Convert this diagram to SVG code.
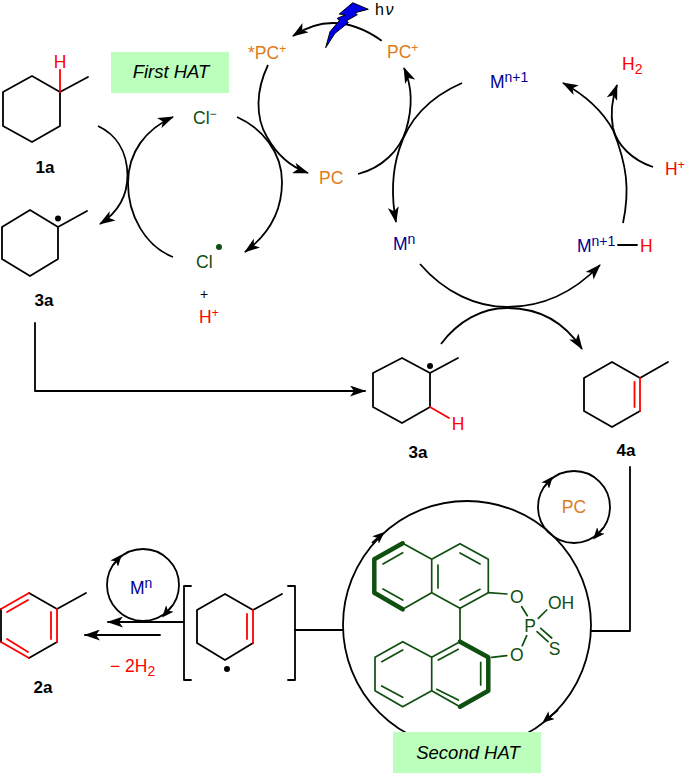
<svg xmlns="http://www.w3.org/2000/svg" width="685" height="773" viewBox="0 0 685 773">
<style>
text{font-family:"Liberation Sans",Arial,sans-serif;font-size:17.500px}
.b{fill:none;stroke:#000;stroke-width:1.800;stroke-linecap:round;stroke-linejoin:round}
.r{fill:none;stroke:#f00;stroke-width:1.800;stroke-linecap:round}
.a{fill:none;stroke:#000;stroke-width:1.800}
.g{fill:none;stroke:#0f4f0f;stroke-width:1.700;stroke-linecap:round;stroke-linejoin:round}
.t{fill:none;stroke:#0f4f0f;stroke-width:4.500;stroke-linecap:round;stroke-linejoin:round}
.lbl{font-weight:bold;fill:#000;text-anchor:middle;font-size:17px}
.o{fill:#e07b1a}.n{fill:#000090}.d{fill:#0f4f0f}.rt{fill:#f00}
.hat{fill:#bcffbc}.i{font-style:italic;fill:#000;text-anchor:middle;font-size:18.500px}
.s{font-size:12px}.sn{font-size:14px}
</style>
<defs>
<marker id="ah" viewBox="0 0 16 11" refX="15" refY="5.500" markerWidth="16" markerHeight="11" markerUnits="userSpaceOnUse" orient="auto"><path d="M0 0L16 5.500L0 11L4 5.500Z" fill="#000"/></marker>
<marker id="am" viewBox="0 0 12 10" refX="6" refY="5" markerWidth="12" markerHeight="10" markerUnits="userSpaceOnUse" orient="auto"><path d="M0 0L12 5L0 10L3 5Z" fill="#000"/></marker>
</defs>

<g id="connectors">
<path class="a" marker-end="url(#ah)" d="M98 126C115 134 127 150 127.500 175C127.500 197 117 213 100 224"/>
<path class="a" marker-end="url(#ah)" d="M173 257C145 246 128 215 128 183C128 152 146 129 173 117"/>
<path class="a" marker-end="url(#ah)" d="M237 117C262 128 282 152 282 182C282 212 268 235 245 252"/>
<path class="a" marker-end="url(#ah)" d="M268 65C256 90 255 117 267 137C277 155 291 167 308 173"/>
<path class="a" marker-end="url(#ah)" d="M381.700 40.700C368 31 350 23 333 23C318 23 305 28 293 36"/>
<path class="a" marker-end="url(#ah)" d="M358 174C382 168 400 150 406 130C412 110 413 88 404 68"/>
<path class="a" marker-end="url(#ah)" d="M462 83C430 97 408 120 399 150C392 172 391 195 396 222"/>
<path class="a" marker-end="url(#ah)" d="M420 264C445 293 477 307 507 307C545 307 575 291 600 265"/>
<path class="a" marker-end="url(#ah)" d="M441 344C458 321 482 308 507 308C540 308 565 323 582 349"/>
<path class="a" marker-end="url(#ah)" d="M623 223C630 190 627 165 613 130C603 112 585 95 563 83"/>
<path class="a" marker-end="url(#ah)" d="M653 167C632 160 617 145 613 128C610 112 612 99 617 85"/>
<path class="b" marker-end="url(#ah)" d="M35 323V391H365"/>
<path class="b" d="M630 467V631H591"/>
<path class="b" d="M295 630H343"/>
<path class="b" marker-end="url(#ah)" d="M183 622H108"/>
<path class="b" marker-end="url(#ah)" d="M160 635H85"/>
</g>

<g id="node-1a">
<path class="b" d="M32 76L60 92V126L32 142L3 126V92ZM60 92L88 77"/>
<path class="r" d="M60 92V70"/>
<text class="rt" x="60" y="68" text-anchor="middle">H</text>
<text class="lbl" x="45" y="173">1a</text>
</g>
<g id="node-3a-left">
<path class="b" d="M30 210L58 227V259L30 276L2 259V227ZM58 227L87 211"/>
<circle cx="58" cy="218.500" r="3"/>
<text class="lbl" x="44" y="306">3a</text>
</g>
<g id="node-first-hat">
<rect class="hat" x="111" y="52" width="118" height="41"/>
<text class="i" x="171" y="78">First HAT</text>
</g>
<g id="node-cl-minus"><text class="d" x="193" y="124">Cl<tspan class="s" dy="-6">−</tspan></text></g>
<g id="node-cl-radical"><text class="d" x="196" y="268">Cl</text><circle cx="219" cy="247" r="3" fill="#0f4f0f"/></g>
<g id="node-plus-h"><text x="204" y="299" text-anchor="middle" style="font-size:14px">+</text><text class="rt" x="199" y="323">H<tspan class="s" dy="-6">+</tspan></text></g>
<g id="node-pc-star"><text class="o" x="248" y="59">*PC<tspan class="s" dy="-6">+</tspan></text></g>
<g id="node-pc-plus"><text class="o" x="387" y="58">PC<tspan class="s" dy="-6">+</tspan></text></g>
<g id="node-pc"><text class="o" x="319" y="184">PC</text></g>
<g id="node-hv">
<path d="M352.700 2.700L368.300 9.300L355 12.700L357.300 14.700L346.700 20.700L348.300 22.700L335 33.300L325.700 47.700L330 31.700L339.300 20.700L337.300 18.300L345 15L339.300 14Z" fill="#0000e6" stroke="#000" stroke-width="1"/>
<text x="375" y="15" fill="#000" letter-spacing="1.500" style="font-size:16px">h<tspan font-style="italic">ν</tspan></text>
</g>
<g id="node-mn1"><text class="n" x="490" y="88">M<tspan class="sn" dy="-6">n+1</tspan></text></g>
<g id="node-mn"><text class="n" x="393" y="250">M<tspan class="sn" dy="-6">n</tspan></text></g>
<g id="node-mn1h">
<text class="n" x="577" y="252">M<tspan class="sn" dy="-6">n+1</tspan></text>
<path class="b" d="M618 245H637"/>
<text class="rt" x="640" y="252">H</text>
</g>
<g id="node-h2"><text class="rt" x="622" y="70">H<tspan class="s" dy="4" style="font-size:14px">2</tspan></text></g>
<g id="node-hplus"><text class="rt" x="665" y="175">H<tspan class="s" dy="-6">+</tspan></text></g>
<g id="node-3a-center">
<path class="b" d="M402 358L430 373V407L402 423L373 407V373ZM430 373L458 358"/>
<path class="r" d="M430 407L449 418"/>
<circle cx="430" cy="366" r="3"/>
<text class="rt" x="458" y="430" text-anchor="middle">H</text>
<text class="lbl" x="418" y="458">3a</text>
</g>
<g id="node-4a">
<path class="b" d="M640 411L612 427L584 411V378L612 362L640 378L668 362"/>
<path class="r" d="M640 378V411M634.500 382V407"/>
<text class="lbl" x="626" y="456">4a</text>
</g>
<g id="node-pc-cycle">
<circle class="a" cx="574" cy="507" r="36"/>
<path class="a" marker-end="url(#am)" d="M544 487L549 481"/>
<path class="a" marker-end="url(#am)" d="M603 528L597 535"/>
<text class="o" x="574" y="513" text-anchor="middle">PC</text>
</g>
<g id="node-second-hat">
<circle class="a" cx="467" cy="625" r="124"/>
<path class="a" marker-end="url(#am)" d="M372 543L380 536"/>
<path class="a" marker-end="url(#am)" d="M558 710L547 719"/>
<rect class="hat" x="393" y="732" width="148" height="41"/>
<text class="i" x="468" y="759">Second HAT</text>
</g>
<g id="node-binol">
<path class="g" d="M402.700 543.300L431.700 559.300L460 543.700L488.300 559.300V592.700L460 608.300L431.700 592.700L402.700 609.300M431.700 559.300V592.700"/>
<path class="t" d="M402.700 543.300L374.300 559.300V592.700L402.700 609.300"/>
<path class="g" d="M383 564L402.700 552.700M383 589L402.700 600M460 553L480 564M480 589.300L460 600M438 565V588"/>
<path class="g" d="M488.300 592.700L507 594M521.700 606.700L527.300 615.700M538.300 618.300L546.700 610M537 631.700L548 641.700M540.700 628.300L551.700 638M460 608.300V641.700"/>
<path class="t" d="M460 641.700L488.300 657.300V690.700L460 706.700"/>
<path class="g" d="M460 641.700L431.700 657.300V690.700L460 706.700M431.700 690.700L402.700 706.700L375 690.700V657.300L402.700 641.700L431.700 657.300"/>
<path class="g" d="M438.300 660L458.300 649.300M480.700 662.300V685M436.700 689.300L458.300 700M381.700 661.700L402.700 650M381.700 686L402.700 697.300"/>
<path class="g" d="M491.700 657.300L506.700 655.700M522.300 645.700L526.700 635.700"/>
<text class="d" x="516.700" y="603" text-anchor="middle">O</text>
<text class="d" x="516.700" y="661" text-anchor="middle">O</text>
<text class="d" x="530" y="632" text-anchor="middle">P</text>
<text class="d" x="561" y="609" text-anchor="middle">OH</text>
<text class="d" x="554.500" y="655" text-anchor="middle">S</text>
</g>
<g id="node-intermediate">
<path class="b" d="M191 586H184V680H191M288 586H295V680H288"/>
<path class="b" d="M253 643L225 660L197 643V610L225 594L253 610L282 594"/>
<path class="r" d="M253 610V643M247 614V639"/>
<circle cx="227" cy="669" r="3"/>
</g>
<g id="node-mn-cycle">
<circle class="a" cx="143" cy="585" r="36"/>
<path class="a" marker-end="url(#am)" d="M113 565L118 559"/>
<path class="a" marker-end="url(#am)" d="M172 606L166 613"/>
<text class="n" x="130" y="594">M<tspan class="sn" dy="-6">n</tspan></text>
</g>
<g id="node-minus-2h2"><text class="rt" x="110" y="672">− 2H<tspan class="s" dy="4" style="font-size:14px">2</tspan></text></g>
<g id="node-2a">
<path class="b" d="M1 609V642M57 642L29 658M29 593L57 609M57 609L86 593"/>
<path class="r" d="M1 609L29 593M7 612L28 600M1 642L29 658M7 639L28 652M57 609V642M51 612V639"/>
<text class="lbl" x="43" y="693">2a</text>
</g>
</svg>
